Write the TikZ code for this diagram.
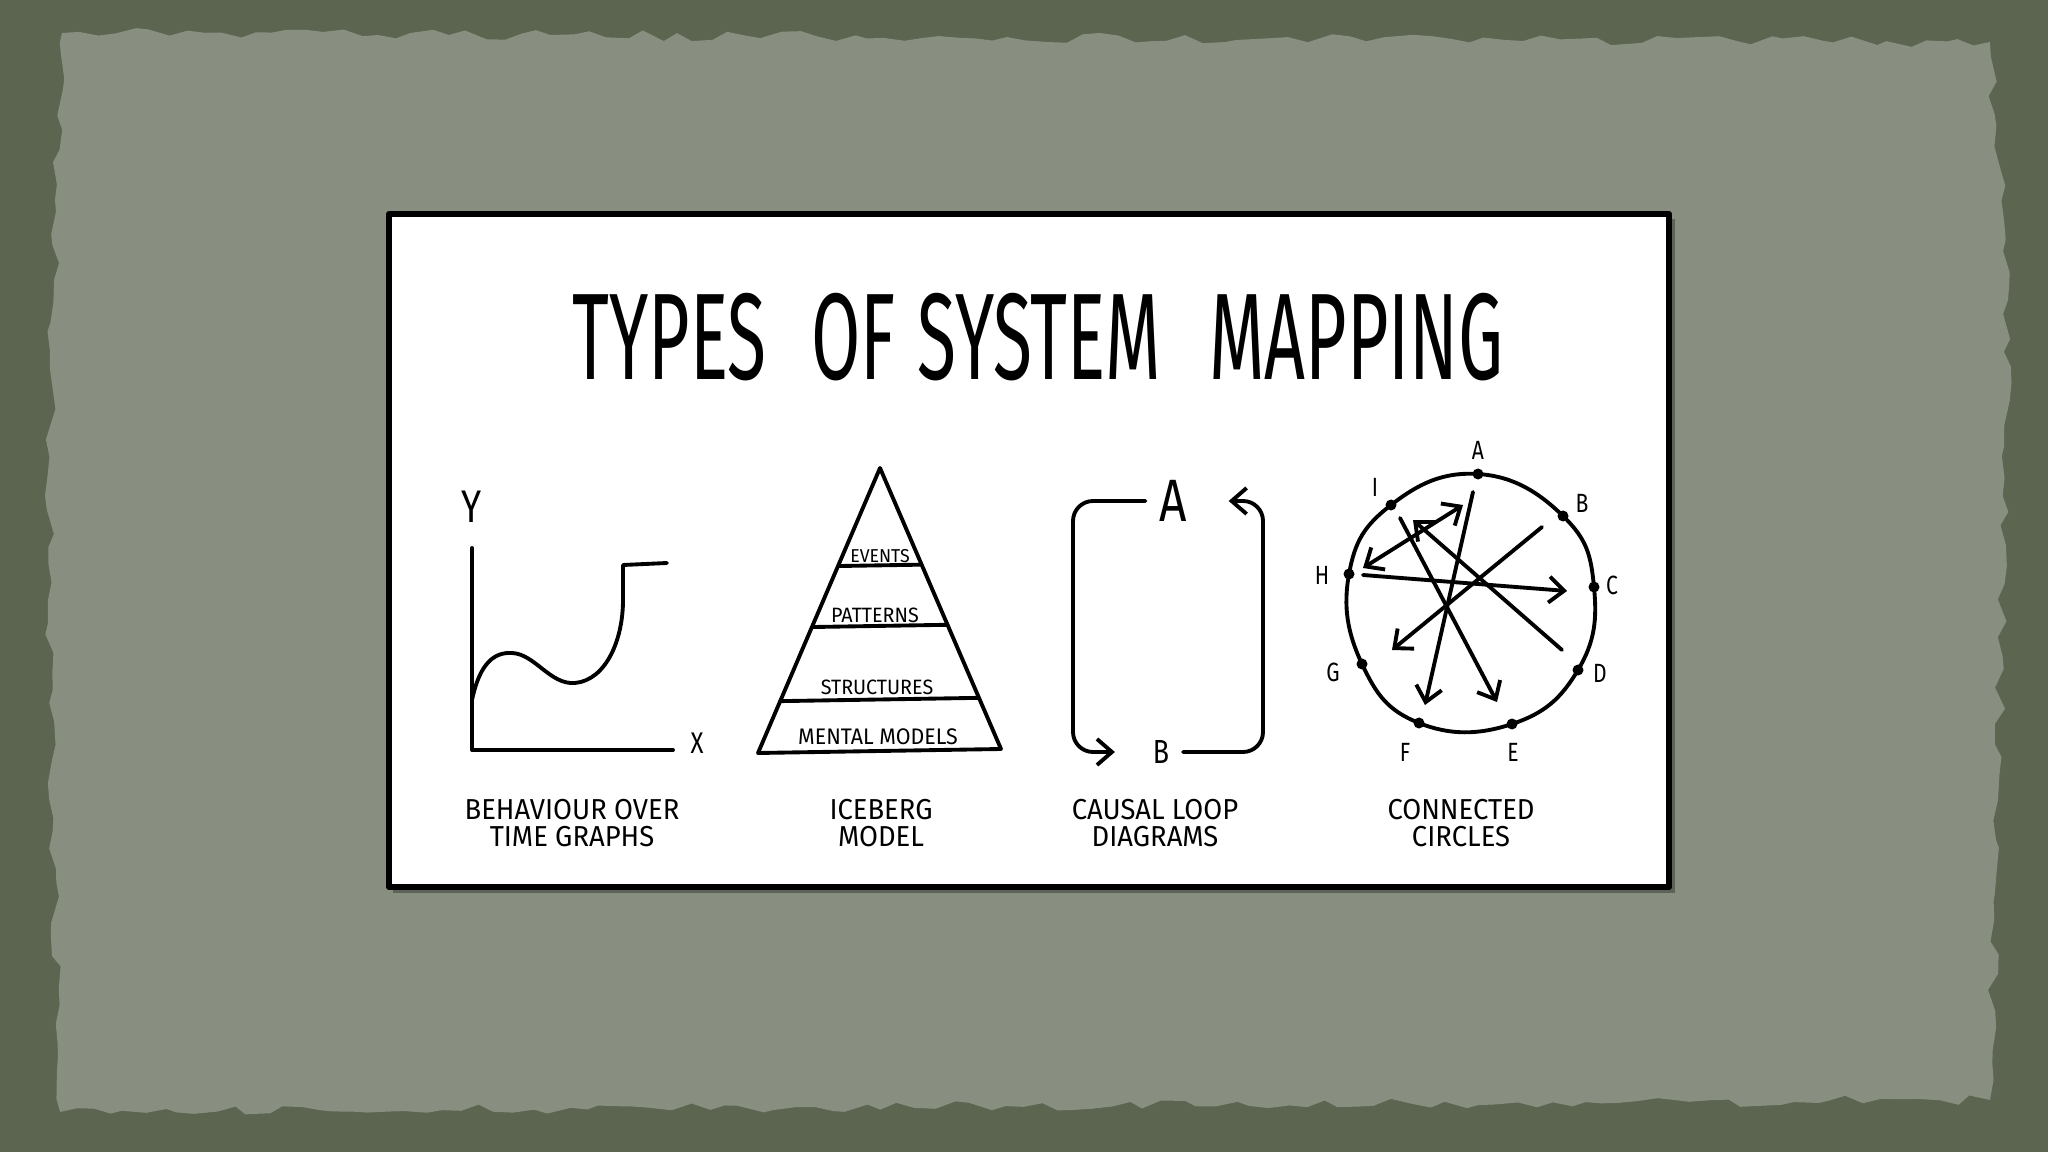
\documentclass[tikz,border=0pt]{standalone}
\usepackage{fontspec}
\newfontfamily\titlefont[FakeStretch=0.58]{Fira Sans}
\newfontfamily\handfont[FakeStretch=0.8]{Fira Sans}
\newfontfamily\tagfont[FakeStretch=0.95]{Fira Sans}
\usepackage{tikz}
\usetikzlibrary{arrows.meta,calc,decorations.pathmorphing}
\definecolor{bgframe}{HTML}{5B6550}
\definecolor{paper}{HTML}{888F80}

\begin{document}
\begin{tikzpicture}[x=0.01cm, y=-0.01cm, line width=1.1pt, line cap=round, line join=round,
    >={Straight Barb[length=1.5mm,width=2.6mm]},
    hand/.style={font=\handfont\fontsize{7.5}{7.7}\selectfont, inner sep=0pt, text depth=0pt},
    tag/.style={hand, align=center, font=\tagfont\fontsize{8.2}{7.8}\selectfont},
    boxtext/.style={hand, font=\tagfont\fontsize{#1}{6.5}\selectfont},
    letter/.style={hand, font=\handfont\fontsize{7.5}{8}\selectfont},
    dot/.style={circle, fill=black, inner sep=0pt, minimum size=1.1mm}]
                \fill[bgframe] (0,0) rectangle (2048,1152);
                \useasboundingbox (0,0) rectangle (2048,1152);
                \pgfmathsetseed{7}
                \fill[paper, decorate, decoration={random steps, segment length=5pt, amplitude=1.5pt}] (62,33) -- (1990,42) -- (2008,300) -- (1998,800) -- (1990,1100) -- (60,1112) -- (48,600) -- (55,200) -- cycle;
                % white card
                \fill[black, opacity=0.3] (393,219) rectangle (1675,893);
                \draw[line width=1.7pt, fill=white] (389,214) rectangle (1669,887);
                \node[font=\titlefont\fontsize{35}{35}\selectfont, inner sep=0pt, text depth=0pt] (title) at (1038,336) {TYPES\hspace{0.45cm}OF\hspace{0.22cm}SYSTEM\hspace{0.48cm}MAPPING};
                % behaviour over time
                \coordinate (orig) at (472,750);
                \coordinate (ytop) at (472,548);
                \coordinate (xend) at (673,750);
                \draw (ytop) -- (orig) -- (xend);
                \node[hand, font=\handfont\fontsize{13}{13}\selectfont] (ylbl) at (472,507) {Y};
                \node[hand, font=\handfont\fontsize{8.5}{9}\selectfont] (xlbl) at (697,743) {X};
                \draw (472,700) .. controls (480,662) and (495,652) .. (512,653) .. controls (535,654) and (550,685) .. (575,683) .. controls (606,680) and (623,640) .. (623,600) -- (623,565) -- (667,563);
                \node[tag] (botlbl) at (572,823) {BEHAVIOUR OVER\\TIME GRAPHS};
                % iceberg
                \coordinate (apex) at (880,468);
                \coordinate (baseL) at (758,753);
                \coordinate (baseR) at (1001,749);
                \draw (apex) -- (baseL) -- (baseR) -- cycle;
                \foreach \t in {0.344,0.558,0.818} \draw ($(apex)!\t!(baseL)$) -- ($(apex)!\t!(baseR)$);
                \node[boxtext=5.3] (events) at (880,556) {EVENTS};
                \node[boxtext=5.9] (patterns) at (875,615) {PATTERNS};
                \node[boxtext=5.9] (structures) at (877,687) {STRUCTURES};
                \node[boxtext=6.4] (mental) at (878,737) {MENTAL MODELS};
                \node[tag] (icelbl) at (881,823) {ICEBERG\\MODEL};
                % causal loop
                \node[hand, font=\handfont\fontsize{17}{17}\selectfont] (cA) at (1173,501) {A};
                \node[hand, font=\handfont\fontsize{9.5}{10}\selectfont] (cB) at (1161,752) {B};
                \coordinate (loopW) at (1073,627);
                \coordinate (loopE) at (1263,627);
                \draw[->, rounded corners=2mm, shorten <=1.2mm, shorten >=3.6mm] (cA.west) -| (loopW) |- (cB.west);
                \draw[->, rounded corners=2mm, shorten <=1.2mm, shorten >=4mm] (cB.east) -| (loopE) |- (cA.east);
                \node[tag] (cldlbl) at (1155,823) {CAUSAL LOOP\\DIAGRAMS};
                % connected circles
                \coordinate (ccA) at (1478,474);
                \coordinate (ccB) at (1563,516);
                \coordinate (ccC) at (1594,587);
                \coordinate (ccD) at (1578,670);
                \coordinate (ccE) at (1512,724);
                \coordinate (ccF) at (1419,723);
                \coordinate (ccG) at (1362,664);
                \coordinate (ccH) at (1349,574);
                \coordinate (ccI) at (1391,505);
                \draw plot[smooth cycle, tension=0.75] coordinates {(ccA) (ccB) (ccC) (ccD) (ccE) (ccF) (ccG) (ccH) (ccI)};
                \foreach \p in {A,B,C,D,E,F,G,H,I} \node[dot] (dot\p) at (cc\p) {};
                \node[letter] (lblA) at (1478,450) {A};
                \node[letter] (lblB) at (1582,503) {B};
                \node[letter] (lblC) at (1612,585) {C};
                \node[letter] (lblD) at (1600,673) {D};
                \node[letter] (lblE) at (1513,752) {E};
                \node[letter] (lblF) at (1405,752) {F};
                \node[letter] (lblG) at (1333,672) {G};
                \node[letter] (lblH) at (1322,575) {H};
                \node[letter] (lblI) at (1375,487) {I};
                \coordinate (a1) at (1363,568); \coordinate (b1) at (1463,505);
                \coordinate (a2) at (1363,575); \coordinate (b2) at (1567,591);
                \coordinate (a3) at (1473,492); \coordinate (b3) at (1425,705);
                \coordinate (a4) at (1400,518); \coordinate (b4) at (1497,702);
                \coordinate (a5) at (1562,650); \coordinate (b5) at (1413,520);
                \coordinate (a6) at (1542,527); \coordinate (b6) at (1392,650);
                \draw[<->] (a1) -- (b1);
                \foreach \i in {2,...,6} \draw[->] (a\i) -- (b\i);
                \node[tag] (cclbl) at (1461,823) {CONNECTED\\CIRCLES};
            \end{tikzpicture}
\end{document}
